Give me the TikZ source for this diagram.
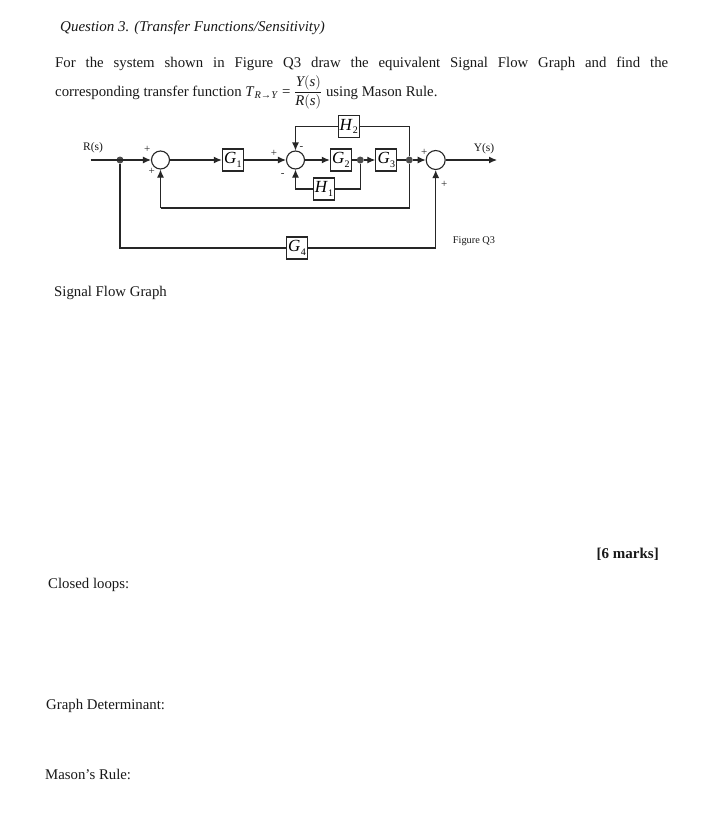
\documentclass[tikz,border=0pt]{standalone}
\usepackage{fontspec}
\setmainfont{Liberation Serif}
\usetikzlibrary{arrows.meta}
\newcommand{\blk}[2]{\textit{#1}\kern0.3pt\raisebox{-0.45ex}{\fontsize{10}{10}\selectfont #2}}
\begin{document}
\begin{tikzpicture}[x=1pt,y=-1pt,
  txt/.style={inner sep=0pt, text=black!90, font=\fontsize{14.8}{17}\selectfont},
  small/.style={inner sep=0pt, text=black!90, font=\fontsize{11.5}{13}\selectfont},
  signlab/.style={inner sep=0pt, text=black!85, font=\fontsize{11}{11}\selectfont},
  blockbox/.style={draw=black!85, line width=1.1pt, minimum width=21pt, minimum height=22pt, inner sep=0pt, font=\fontsize{17}{17}\selectfont},
  sumnode/.style={draw=black!85, line width=1.1pt, circle, minimum size=18pt, inner sep=0pt},
  dotnode/.style={circle, fill=black!70, minimum size=7pt, inner sep=0pt},
  wire/.style={draw=black!85, line width=1.1pt},
  sig/.style={wire, -{Latex[length=8pt,width=7pt]}}
]
\useasboundingbox (0,0) rectangle (706,820);
\fill[white] (0,0) rectangle (706,820);

% ---- text ----
\node[txt, anchor=west, font=\fontsize{15}{17}\selectfont\itshape] (title) at (60,28) {Question 3. (Transfer Functions/Sensitivity)};
\node[txt, anchor=west] (line1) at (55,63.5) {\makebox[613pt][s]{For the system shown in Figure Q3 draw the equivalent Signal Flow Graph and find the}};
\node[txt, anchor=west] (line2) at (55,92.5) {corresponding transfer function \textit{T}\textsubscript{\textit{R}→\textit{Y}} = $\displaystyle\frac{\textit{Y}(\textit{s})}{\textit{R}(\textit{s})}$ using Mason Rule.};
\node[txt, anchor=west] (sfg) at (54,293) {Signal Flow Graph};
\node[txt, anchor=east, font=\fontsize{15}{17}\selectfont\bfseries] (marks) at (659,554) {[6 marks]};
\node[txt, anchor=west] (loops) at (48,584.5) {Closed loops:};
\node[txt, anchor=west] (det) at (46,705.5) {Graph Determinant:};
\node[txt, anchor=west] (mason) at (45,774.5) {Mason’s Rule:};

% ---- block diagram ----
\node[small] (rlab) at (93,148) {R(s)};
\node[small] (ylab) at (484,149) {Y(s)};
\node[small, font=\fontsize{10.3}{12}\selectfont] (figlab) at (474,241.5) {Figure Q3};

\coordinate (rin) at (90.5,160);
\coordinate (yout) at (497,160);
\node[dotnode] (d0) at (120,160) {};
\node[sumnode] (s1) at (160.5,160) {};
\node[blockbox] (g1) at (232.8,160) {\blk{G}{1}};
\node[sumnode] (s2) at (295.5,160) {};
\node[blockbox] (g2) at (340.8,160) {\blk{G}{2}};
\node[dotnode] (d1) at (360.3,160) {};
\node[blockbox] (g3) at (386.3,160) {\blk{G}{3}};
\node[dotnode] (d2) at (409.3,160) {};
\node[sumnode, minimum size=19pt] (s3) at (435.7,160) {};
\node[blockbox] (h2) at (348.8,126.5) {\blk{H}{2}};
\node[blockbox] (h1) at (324,189) {\blk{H}{1}};
\node[blockbox] (g4) at (297,248) {\blk{G}{4}};
\coordinate (fbr) at (409.3,208);
\coordinate (fbl) at (160.5,208);

\draw[sig] (rin) -- (s1);
\draw[sig] (s1) -- (g1);
\draw[sig] (g1) -- (s2);
\draw[sig] (s2) -- (g2);
\draw[wire] (g2) -- (d1);
\draw[sig] (d1) -- (g3);
\draw[wire] (g3) -- (d2);
\draw[sig] (d2) -- (s3);
\draw[sig] (s3) -- (yout);
\draw[wire] (d2) |- (h2.east);
\draw[sig] (h2.west) -| (s2.north);
\draw[wire] (d1) |- (h1.east);
\draw[sig] (h1.west) -| (s2.south);
\draw[wire] (d2) -- (fbr) -- (fbl);
\draw[sig] (fbl) -- (s1.south);
\draw[wire] (d0) |- (g4.west);
\draw[sig] (g4.east) -| (s3.south);

% signs
\node[signlab] (p1) at (147.3,149.5) {+};
\node[signlab] (p2) at (151.7,171.5) {+};
\node[signlab] (p3) at (274,153) {+};
\node[signlab] (m1) at (282.7,174.5) {-};
\node[signlab] (m2) at (301.5,147.5) {-};
\node[signlab] (p4) at (424.3,152.5) {+};
\node[signlab] (p5) at (444.3,184) {+};
\end{tikzpicture}
\end{document}
